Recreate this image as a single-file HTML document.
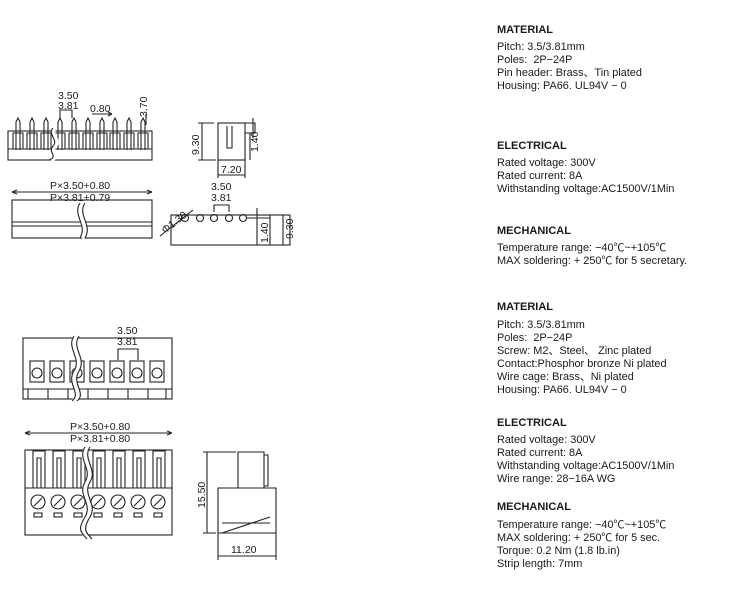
<!DOCTYPE html>
<html><head><meta charset="utf-8"><style>
body{margin:0;background:#fff;width:750px;height:595px;overflow:hidden;position:relative;font-family:"Liberation Sans","Noto Sans CJK SC",sans-serif;color:#1a1a1a}
.t{position:absolute;left:497px;font-size:10.9px;line-height:13px;white-space:nowrap}
.h{font-weight:bold;font-size:11px}
svg{position:absolute;left:0;top:0}
</style></head><body>
<div class="t" style="top:24px"><span class="h">MATERIAL</span></div>
<div class="t" style="top:41px">Pitch: 3.5/3.81mm<br>Poles:&nbsp; 2P−24P<br>Pin header: Brass、Tin plated<br>Housing: PA66. UL94V − 0</div>
<div class="t" style="top:140px"><span class="h">ELECTRICAL</span></div>
<div class="t" style="top:157px">Rated voltage: 300V<br>Rated current: 8A<br>Withstanding voltage:AC1500V/1Min</div>
<div class="t" style="top:225px"><span class="h">MECHANICAL</span></div>
<div class="t" style="top:242px">Temperature range: −40℃~+105℃<br>MAX soldering: + 250℃ for 5 secretary.</div>
<div class="t" style="top:301px"><span class="h">MATERIAL</span></div>
<div class="t" style="top:319px">Pitch: 3.5/3.81mm<br>Poles:&nbsp; 2P−24P<br>Screw: M2、Steel、 Zinc plated<br>Contact:Phosphor bronze Ni plated<br>Wire cage: Brass、Ni plated<br>Housing: PA66. UL94V − 0</div>
<div class="t" style="top:417px"><span class="h">ELECTRICAL</span></div>
<div class="t" style="top:434px">Rated voltage: 300V<br>Rated current: 8A<br>Withstanding voltage:AC1500V/1Min<br>Wire range: 28−16A WG</div>
<div class="t" style="top:501px"><span class="h">MECHANICAL</span></div>
<div class="t" style="top:519px">Temperature range: −40℃~+105℃<br>MAX soldering: + 250℃ for 5 sec.<br>Torque: 0.2 Nm (1.8 lb.in)<br>Strip length: 7mm</div>

<svg width="750" height="595" viewBox="0 0 750 595" fill="none" stroke="#222" stroke-width="1.1" font-family="Liberation Sans, sans-serif" font-size="10.5">
<!-- pin header front -->
<rect x="8" y="131" width="144" height="29"/>
<line x1="8" y1="149" x2="152" y2="149"/>
<g>
<path d="M16 150 V122 l2-4 2 4 V150 M13 133 h10 v16 h-10z"/>
<path d="M30 150 V122 l2-4 2 4 V150 M27 133 h10 v16 h-10z"/>
<path d="M44 150 V122 l2-4 2 4 V150 M41 133 h10 v16 h-10z"/>
<path d="M58 150 V122 l2-4 2 4 V150 M55 133 h10 v16 h-10z"/>
<path d="M72 150 V122 l2-4 2 4 V150 M69 133 h10 v16 h-10z"/>
<path d="M86 150 V122 l2-4 2 4 V150 M83 133 h10 v16 h-10z"/>
<path d="M100 150 V122 l2-4 2 4 V150 M97 133 h10 v16 h-10z"/>
<path d="M113 150 V122 l2-4 2 4 V150 M110 133 h10 v16 h-10z"/>
<path d="M127 150 V122 l2-4 2 4 V150 M124 133 h10 v16 h-10z"/>
<path d="M141 150 V122 l2-4 2 4 V150 M138 133 h10 v16 h-10z"/>
</g>
<path d="M55 128 c-6 6 6 12 0 18 s6 10 -4 14" stroke="#fff" stroke-width="4"/>
<path d="M53 128 c-6 6 6 12 0 18 s6 10 -4 14"/>
<path d="M60 118 V110 H72 V118 M92 114 h20 M112 114 l-4-2 M112 114 l-4 2 M146 114 V125"/>
<g fill="#1a1a1a" stroke="none"><text x="58" y="99">3.50</text><text x="58" y="109">3.81</text><text x="90" y="112">0.80</text><text transform="translate(147,117) rotate(-90)">3.70</text></g>
<!-- side view -->
<rect x="218" y="123" width="27" height="37"/>
<path d="M227 126 V148 H232 V126 M245 123 H255 V133 H245 M198 123 H214 M198 160 H216 M202 123 V160 M218 160 V178 M245 160 V178 M218 175 H245 M250 133 V160 M253 118 V138"/>
<g fill="#1a1a1a" stroke="none"><text transform="translate(199,155) rotate(-90)">9.30</text><text transform="translate(258,152) rotate(-90)">1.40</text><text x="221" y="173">7.20</text></g>
<!-- long rect -->
<rect x="12" y="200" width="140" height="38"/>
<path d="M12 222 H152 M12 226 H152 M12 192 H152 M12 192 l5-2 M12 192 l5 2 M152 192 l-5-2 M152 192 l-5 2"/>
<path d="M82 203 c-8 12 8 22 0 35" stroke="#fff" stroke-width="5"/>
<path d="M80 203 c-8 12 8 22 0 35 M85 203 c-8 12 8 22 0 35"/>
<g fill="#1a1a1a" stroke="none"><text x="50" y="189">P×3.50+0.80</text><text x="50" y="201">P×3.81+0.79</text></g>
<!-- bottom view -->
<rect x="171" y="215" width="119" height="30"/>
<circle cx="200" cy="218" r="3.5"/><circle cx="214" cy="218" r="3.5"/><circle cx="229" cy="218" r="3.5"/><circle cx="243" cy="218" r="3.5"/><circle cx="185" cy="218" r="3.5"/>
<path d="M214 212 V205 H229 V212 M247 218 H270 M257 208 V245 M270 215 V245 M160 236 L193 210 M283 215 V245"/>
<g fill="#1a1a1a" stroke="none"><text x="211" y="190">3.50</text><text x="211" y="201">3.81</text><text transform="translate(268,243) rotate(-90)">1.40</text><text transform="translate(293,239) rotate(-90)">9.30</text><text transform="translate(165,234) rotate(-38)">Φ1.30</text></g>

<!-- lower top view -->
<rect x="23" y="338" width="149" height="61"/>
<path d="M23 389 H172 M28 389 V399 M48 389 V399 M68 389 V399 M88 389 V399 M108 389 V399 M128 389 V399 M148 389 V399 M166 389 V399"/>
<g>
<rect x="30" y="361" width="14" height="21"/><circle cx="37" cy="373" r="5"/>
<rect x="50" y="361" width="14" height="21"/><circle cx="57" cy="373" r="5"/>
<rect x="70" y="361" width="14" height="21"/><circle cx="77" cy="373" r="5"/>
<rect x="90" y="361" width="14" height="21"/><circle cx="97" cy="373" r="5"/>
<rect x="110" y="361" width="14" height="21"/><circle cx="117" cy="373" r="5"/>
<rect x="130" y="361" width="14" height="21"/><circle cx="137" cy="373" r="5"/>
<rect x="150" y="361" width="14" height="21"/><circle cx="157" cy="373" r="5"/>
</g>
<path d="M76 336 c-8 12 8 22 0 35 s8 22 -2 30" stroke="#fff" stroke-width="5"/>
<path d="M74 336 c-8 12 8 22 0 35 s8 22 -2 30 M79 336 c-8 12 8 22 0 35 s8 22 -2 30"/>
<path d="M118 360 V349 H138 V360"/>
<g fill="#1a1a1a" stroke="none"><text x="117" y="334">3.50</text><text x="117" y="345">3.81</text></g>
<!-- lower front -->
<path d="M25 433 H172 M25 433 l5-2 M25 433 l5 2 M172 433 l-5-2 M172 433 l-5 2"/>
<rect x="25" y="450" width="147" height="85"/>
<path d="M25 488 H172"/>
<g>
<path d="M33 488 V451 H45 V488 M37 488 V458 H41 V488"/>
<path d="M53 488 V451 H65 V488 M57 488 V458 H61 V488"/>
<path d="M73 488 V451 H85 V488 M77 488 V458 H81 V488"/>
<path d="M93 488 V451 H105 V488 M97 488 V458 H101 V488"/>
<path d="M113 488 V451 H125 V488 M117 488 V458 H121 V488"/>
<path d="M133 488 V451 H145 V488 M137 488 V458 H141 V488"/>
<path d="M153 488 V451 H165 V488 M157 488 V458 H161 V488"/>
</g>
<g>
<circle cx="38" cy="502" r="7"/><circle cx="58" cy="502" r="7"/><circle cx="78" cy="502" r="7"/><circle cx="98" cy="502" r="7"/><circle cx="118" cy="502" r="7"/><circle cx="138" cy="502" r="7"/><circle cx="158" cy="502" r="7"/>
<path d="M34 506 l8-8 M54 506 l8-8 M74 506 l8-8 M94 506 l8-8 M114 506 l8-8 M134 506 l8-8 M154 506 l8-8"/>
<rect x="34" y="513" width="8" height="4"/><rect x="54" y="513" width="8" height="4"/><rect x="74" y="513" width="8" height="4"/><rect x="94" y="513" width="8" height="4"/><rect x="114" y="513" width="8" height="4"/><rect x="134" y="513" width="8" height="4"/><rect x="154" y="513" width="8" height="4"/>
</g>
<path d="M87 447 c-8 12 8 22 0 35 s8 22 0 35 s-4 15 2 22" stroke="#fff" stroke-width="5"/>
<path d="M85 447 c-8 12 8 22 0 35 s8 22 0 35 s-4 15 2 22 M90 447 c-8 12 8 22 0 35 s8 22 0 35 s-4 15 2 22"/>
<g fill="#1a1a1a" stroke="none"><text x="70" y="430">P×3.50+0.80</text><text x="70" y="442">P×3.81+0.80</text></g>
<!-- lower side -->
<path d="M238 452 H264 V488 H238 Z M264 455 H268 V486 H264 M218 488 H276 V533 H218 Z M222 523 H270 M222 533 L270 517 M203 452 H236 M203 533 H216 M207 452 V533 M218 533 V560 M276 533 V560 M218 556 H276"/>
<g fill="#1a1a1a" stroke="none"><text transform="translate(205,508) rotate(-90)">15.50</text><text x="231" y="553">11.20</text></g>
</svg>
</body></html>
